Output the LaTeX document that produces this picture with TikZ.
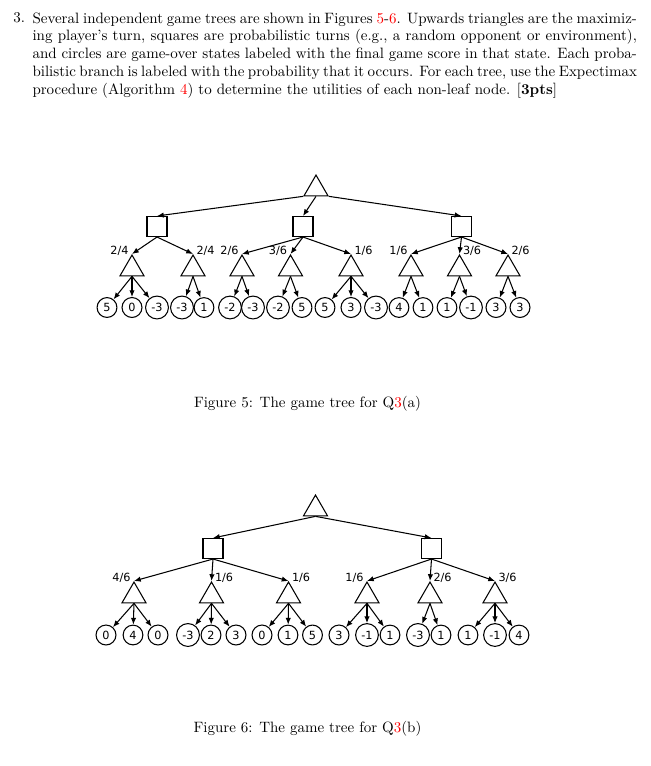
\documentclass[tikz,border=0pt]{standalone}
\usepackage{fontspec}
\newfontfamily\treefont{DejaVu Sans}
\usetikzlibrary{shapes.geometric,arrows.meta}

\begin{document}
\begin{tikzpicture}[x=0.6667pt, y=-0.6667pt, line width=0.7pt,
    maxnode/.style={regular polygon, regular polygon sides=3, draw, minimum size=18.47pt, inner sep=0pt},
    chnode/.style={rectangle, draw, minimum size=13.33pt, inner sep=0pt},
    lnode/.style={circle, draw, minimum size=11.6pt, inner sep=2.1pt, font=\treefont\fontsize{7.5}{8}\selectfont},
    gedge/.style={->, >={Latex[length=4.5pt,width=3.6pt]}},
    plabel/.style={font=\treefont\fontsize{7.5}{8}\selectfont, inner sep=2pt, yshift=2pt},
    bodytext/.style={text width=403pt, align=justify, inner sep=0pt, font=\fontsize{10}{11.85}\selectfont},
]
\useasboundingbox (0,0) rectangle (651,766);

% Question text
\node[anchor=base east, inner sep=0pt] (qnum) at (25.5,22.5) {3.};
\node[bodytext, anchor=north west] (question) at (32,12.1)
  {\hyphenpenalty=10000 Several independent game trees are shown in Figures \textcolor{red}{5}-\textcolor{red}{6}. Upwards triangles are the maximiz-\linebreak
   ing player's turn, squares are probabilistic turns (e.g., a random opponent or environment),\linebreak
   and circles are game-over states labeled with the final game score in that state. Each proba-\linebreak
   bilistic branch is labeled with the probability that it occurs. For each tree, use the Expectimax\linebreak
   procedure (Algorithm \textcolor{red}{4}) to determine the utilities of each non-leaf node. [\textbf{3pts}]};

% Figure 5
\node[maxnode] (ar) at (316,188.9) {};
\node[chnode] (ac1) at (157,226.5) {};
\node[chnode] (ac2) at (303,226.5) {};
\node[chnode] (ac3) at (461.5,226.5) {};
\node[maxnode] (at1) at (132,268.9) {};
\node[maxnode] (at2) at (193,268.9) {};
\node[maxnode] (at3) at (242,268.9) {};
\node[maxnode] (at4) at (290.5,268.9) {};
\node[maxnode] (at5) at (351,268.9) {};
\node[maxnode] (at6) at (411,268.9) {};
\node[maxnode] (at7) at (459.5,268.9) {};
\node[maxnode] (at8) at (508,268.9) {};
\node[lnode] (al1) at (107,307.5) {5};
\node[lnode] (al2) at (132,307.5) {0};
\node[lnode] (al3) at (157,307.5) {-3};
\node[lnode] (al4) at (182,307.5) {-3};
\node[lnode] (al5) at (204,307.5) {1};
\node[lnode] (al6) at (230,307.5) {-2};
\node[lnode] (al7) at (253,307.5) {-3};
\node[lnode] (al8) at (278,307.5) {-2};
\node[lnode] (al9) at (302,307.5) {5};
\node[lnode] (al10) at (325,307.5) {5};
\node[lnode] (al11) at (351,307.5) {3};
\node[lnode] (al12) at (376,307.5) {-3};
\node[lnode] (al13) at (399,307.5) {4};
\node[lnode] (al14) at (423,307.5) {1};
\node[lnode] (al15) at (447,307.5) {1};
\node[lnode] (al16) at (471,307.5) {-1};
\node[lnode] (al17) at (496,307.5) {3};
\node[lnode] (al18) at (520,307.5) {3};

\draw[gedge] (ar.corner 2) -- (ac1.north);
\draw[gedge] (ar.south) -- (ac2.north);
\draw[gedge] (ar.corner 3) -- (ac3.north);
\draw[gedge] (ac1.south) -- (at1.north) node[plabel, left] {2/4};
\draw[gedge] (ac1.south) -- (at2.north) node[plabel, right] {2/4};
\draw[gedge] (ac2.south) -- (at3.north) node[plabel, left] {2/6};
\draw[gedge] (ac2.south) -- (at4.north) node[plabel, left] {3/6};
\draw[gedge] (ac2.south) -- (at5.north) node[plabel, right] {1/6};
\draw[gedge] (ac3.south) -- (at6.north) node[plabel, left] {1/6};
\draw[gedge] (ac3.south) -- (at7.north) node[plabel, right] {3/6};
\draw[gedge] (ac3.south) -- (at8.north) node[plabel, right] {2/6};
\draw[gedge] (at1.south) -- (al1);
\draw[gedge] (at1.south) -- (al2);
\draw[gedge] (at1.south) -- (al3);
\draw[gedge] (at2.south) -- (al4);
\draw[gedge] (at2.south) -- (al5);
\draw[gedge] (at3.south) -- (al6);
\draw[gedge] (at3.south) -- (al7);
\draw[gedge] (at4.south) -- (al8);
\draw[gedge] (at4.south) -- (al9);
\draw[gedge] (at5.south) -- (al10);
\draw[gedge] (at5.south) -- (al11);
\draw[gedge] (at5.south) -- (al12);
\draw[gedge] (at6.south) -- (al13);
\draw[gedge] (at6.south) -- (al14);
\draw[gedge] (at7.south) -- (al15);
\draw[gedge] (at7.south) -- (al16);
\draw[gedge] (at8.south) -- (al17);
\draw[gedge] (at8.south) -- (al18);

\node[anchor=base, inner sep=0pt] (cap5) at (307.5,407) {Figure 5: The game tree for Q\textcolor{red}{3}(a)};

% Figure 6
\node[maxnode] (br) at (315.5,508.9) {};
\node[chnode] (bc1) at (213,548.5) {};
\node[chnode] (bc2) at (431.5,548.5) {};
\node[maxnode] (bt1) at (134,595.9) {};
\node[maxnode] (bt2) at (211.5,595.9) {};
\node[maxnode] (bt3) at (288.5,595.9) {};
\node[maxnode] (bt4) at (367,595.9) {};
\node[maxnode] (bt5) at (430,595.9) {};
\node[maxnode] (bt6) at (495,595.9) {};
\node[lnode] (bl1) at (106,635) {0};
\node[lnode] (bl2) at (133,635) {4};
\node[lnode] (bl3) at (158,635) {0};
\node[lnode] (bl4) at (188,635) {-3};
\node[lnode] (bl5) at (211,635) {2};
\node[lnode] (bl6) at (236,635) {3};
\node[lnode] (bl7) at (262,635) {0};
\node[lnode] (bl8) at (288,635) {1};
\node[lnode] (bl9) at (312.5,635) {5};
\node[lnode] (bl10) at (339,635) {3};
\node[lnode] (bl11) at (367,635) {-1};
\node[lnode] (bl12) at (390,635) {1};
\node[lnode] (bl13) at (418,635) {-3};
\node[lnode] (bl14) at (441,635) {1};
\node[lnode] (bl15) at (468,635) {1};
\node[lnode] (bl16) at (495,635) {-1};
\node[lnode] (bl17) at (519,635) {4};

\draw[gedge] (br.south) -- (bc1.north);
\draw[gedge] (br.south) -- (bc2.north);
\draw[gedge] (bc1.south) -- (bt1.north) node[plabel, left] {4/6};
\draw[gedge] (bc1.south) -- (bt2.north) node[plabel, right] {1/6};
\draw[gedge] (bc1.south) -- (bt3.north) node[plabel, right] {1/6};
\draw[gedge] (bc2.south) -- (bt4.north) node[plabel, left] {1/6};
\draw[gedge] (bc2.south) -- (bt5.north) node[plabel, right] {2/6};
\draw[gedge] (bc2.south) -- (bt6.north) node[plabel, right] {3/6};
\draw[gedge] (bt1.south) -- (bl1);
\draw[gedge] (bt1.south) -- (bl2);
\draw[gedge] (bt1.south) -- (bl3);
\draw[gedge] (bt2.south) -- (bl4);
\draw[gedge] (bt2.south) -- (bl5);
\draw[gedge] (bt2.south) -- (bl6);
\draw[gedge] (bt3.south) -- (bl7);
\draw[gedge] (bt3.south) -- (bl8);
\draw[gedge] (bt3.south) -- (bl9);
\draw[gedge] (bt4.south) -- (bl10);
\draw[gedge] (bt4.south) -- (bl11);
\draw[gedge] (bt4.south) -- (bl12);
\draw[gedge] (bt5.south) -- (bl13);
\draw[gedge] (bt5.south) -- (bl14);
\draw[gedge] (bt6.south) -- (bl15);
\draw[gedge] (bt6.south) -- (bl16);
\draw[gedge] (bt6.south) -- (bl17);

\node[anchor=base, inner sep=0pt] (cap6) at (307.5,732) {Figure 6: The game tree for Q\textcolor{red}{3}(b)};
\end{tikzpicture}
\end{document}
